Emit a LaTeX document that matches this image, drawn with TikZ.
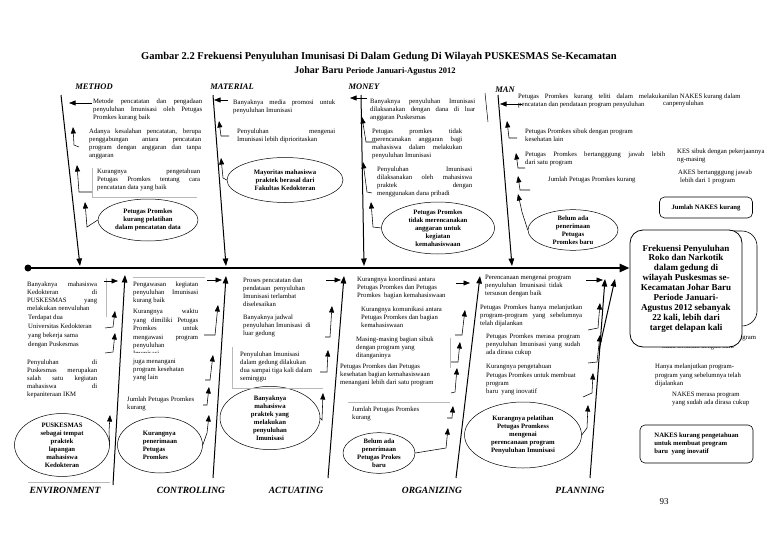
\documentclass[tikz,border=0pt]{standalone}
\usepackage{fontspec}
\setmainfont{Liberation Serif}
\usetikzlibrary{arrows.meta,shapes.geometric}
\tolerance=10000
\hyphenpenalty=10000

\tikzset{
	note/.style={anchor=north west, inner sep=0pt, align=left, font=\fontsize{6.7}{8}\selectfont},
	jnote/.style={note, align=justify, text width=#1},
	cause/.style={draw, ellipse, line width=0.5pt, inner sep=0pt, align=center, font=\bfseries\fontsize{6.7}{8}\selectfont},
	cat/.style={font=\bfseries\itshape\fontsize{8.5}{10}\selectfont},
	bone/.style={line width=1pt, -{Triangle[length=7.5pt,width=5.5pt]}},
	tip/.style={line width=0.55pt, -{Triangle[length=6.5pt,width=5pt]}},
	faint/.style={gray!55, line width=0.4pt},
	nbox/.style={draw, rounded corners=5pt, line width=0.6pt, inner sep=0pt, font=\bfseries\fontsize{6.7}{8.3}\selectfont}
}

\begin{document}
\begin{tikzpicture}[x=1pt,y=-1pt]
	\useasboundingbox (0,0) rectangle (768,543);
	%title----------------------------------------
	\node[font=\bfseries\fontsize{10.5}{12}\selectfont] (title) at (379,57) {Gambar 2.2 Frekuensi Penyuluhan Imunisasi Di Dalam Gedung Di Wilayah PUSKESMAS Se-Kecamatan};
	\node[font=\bfseries] (subtitle) at (375,71) {\fontsize{10}{12}\selectfont Johar Baru \fontsize{8.5}{12}\selectfont Periode Januari-Agustus 2012};

	%spine and head-------------------------------
	\node[font=\fontsize{6.7}{8}\selectfont, anchor=north west, inner sep=0pt] (plbehind) at (670,335) {Perencanaan mengenai program}; %hidden behind head
	\node[font=\fontsize{6.7}{8}\selectfont, anchor=north west, inner sep=0pt] (plbehindb) at (662,344) {tidak tersusun dengan baik}; %hidden behind head
	\draw[line width=0.6pt] (660,231) [rounded corners=15pt] -- (757,231) -- (757,326) -- (660,326); %shape behind head
	\node[draw, fill=white, rounded corners=13pt, line width=0.8pt, minimum width=112pt, minimum height=117pt, align=center, font=\bfseries\fontsize{9}{9.9}\selectfont] (head) at (686,288.5)
		{Frekuensi Penyuluhan\\Roko dan Narkotik\\dalam gedung di\\wilayah Puskesmas se-\\Kecamatan Johar Baru\\Periode Januari-\\Agustus 2012 sebanyak\\22 kali, lebih dari\\target delapan kali};
	\coordinate (spine) at (28,268);
	\fill (spine) circle (3.5pt);
	\draw[line width=2.5pt, -{Triangle[length=10pt,width=8pt]}] (spine) -- (spine -| head.west);

	%category labels------------------------------
	\node[cat] (lmethod) at (94,87) {METHOD};
	\node[cat] (lmaterial) at (232,87) {MATERIAL};
	\node[cat] (lmoney) at (364,87) {MONEY};
	\node[cat] (lman) at (505,90) {MAN};
	\node[cat, font=\bfseries\itshape\fontsize{9.5}{10}\selectfont] (lenv) at (65,490) {ENVIRONMENT};
	\node[cat, font=\bfseries\itshape\fontsize{9.5}{10}\selectfont] (lcontrol) at (191,490) {CONTROLLING};
	\node[cat, font=\bfseries\itshape\fontsize{9.5}{10}\selectfont] (lactuate) at (296,490) {ACTUATING};
	\node[cat, font=\bfseries\itshape\fontsize{9.5}{10}\selectfont] (lorganize) at (432,490) {ORGANIZING};
	\node[cat, font=\bfseries\itshape\fontsize{9.5}{10}\selectfont] (lplan) at (580,490) {PLANNING};

	%bones----------------------------------------
	\draw[bone] (61,95) -- (80,266); %method
	\draw[bone] (213,95) -- (226,266); %material
	\draw[bone] (361,95) -- (364,266); %money
	\draw[bone] (498,95) -- (512,266); %man
	\draw[line width=0.5pt] (485,93) -- (488,122); %stray line
	\draw[bone] (113,485) -- (125,275); %environment
	\draw[bone] (213,478) -- (226,276); %controlling
	\draw[bone] (328,478) -- (344,276); %actuating
	\draw[bone] (456,478) -- (480,276); %organizing
	\draw[bone] (590,478) -- (605,279); %planning
	\draw[bone] (599,350) -- (615,279); %planning 2

	%Method---------------------------------------
	\node[jnote=109pt] (mt1) at (93,99) {Metode pencatatan dan pengadaan\linebreak penyuluhan Imunisasi oleh Petugas\linebreak Promkes kurang baik};
	\node[jnote=112pt] (mt2) at (89,129) {Adanya kesalahan pencatatan, berupa\linebreak penggabungan antara pencatatan\linebreak program dengan anggaran dan tanpa\linebreak anggaran};
	\node[jnote=103pt] (mt3) at (97,169) {Kurangnya pengetahuan\linebreak Petugas Promkes tentang cara\linebreak pencatatan data yang baik};
	\node[cause, minimum width=100pt, minimum height=42pt] (mt4) at (148,220) {Petugas Promkes\\kurang pelatihan\\dalam pencatatan data};
	\draw[faint] (92,168) -- (92,197) -- (197,197); %box edge
	\draw[tip] (92,103) -- (69,103);
	\draw[tip] (79,147) -- (74,145) -- (73,127);
	\draw[tip] (92,192) -- (79,192) -- (77,165);
	\draw[tip] (mt4.west) -- (87,227) -- (85,202);

	%Material-------------------------------------
	\node[jnote=102pt] (ma1) at (233,100) {Banyaknya media promosi untuk\linebreak penyuluhan Imunisasi};
	\node[jnote=98pt] (ma2) at (237,129) {Penyuluhan mengenai\linebreak Imunisasi lebih diprioritaskan};
	\node[cause, minimum width=116pt, minimum height=45pt] (ma3) at (285,180) {Mayoritas mahasiswa\\praktek berasal dari\\Fakultas Kedokteran};
	\draw[tip] (228,100) -- (214,100);
	\draw[tip] (229,136) -- (221,136) -- (219,121);
	\draw[tip] (ma3.west) -- (223,178) -- (221,158);

	%Money----------------------------------------
	\node[jnote=105pt] (mo1) at (370,99) {Banyaknya penyuluhan Imunisasi\linebreak dilaksanakan dengan dana di luar\linebreak anggaran Puskesmas};
	\node[jnote=90pt] (mo2) at (372,129) {Petugas promkes tidak\linebreak merencanakan anggaran bagi\linebreak mahasiswa dalam melakukan\linebreak penyuluhan Imunisasi};
	\node[jnote=95pt] (mo3) at (377,167) {Penyuluhan Imunisasi\linebreak dilaksanakan oleh mahasiswa\linebreak praktek dengan\linebreak menggunakan dana pribadi};
	\node[cause, minimum width=113pt, minimum height=52pt] (mo4) at (438,228) {Petugas Promkes\\tidak merencanakan\\anggaran untuk\\kegiatan\\kemahasiswaan};
	\draw[tip] (367,98) -- (350,98);
	\draw[tip] (376,142) -- (366,142) -- (362,117);
	\draw[tip] (372,193) -- (367,192) -- (363,162);
	\draw[tip] (mo4.west) -- (373,227) -- (371,202);

	%Man------------------------------------------
	\node[jnote=150pt] (mn1) at (518,94) {Petugas Promkes kurang teliti dalam melakukan\linebreak pencatatan dan pendataan program penyuluhan};
	\node[note] (mn1b) at (668,94) {ilan NAKES kurang dalam};
	\node[note] (mn1c) at (663,101) {canpenyuluhan};
	\node[note] (mn2) at (525,129) {Petugas Promkes sibuk dengan program\\kesehatan lain};
	\node[jnote=140pt] (mn3) at (525,152) {Petugas Promkes bertangggung jawab lebih\linebreak dari satu program};
	\node[note] (mn4) at (548,177) {Jumlah Petugas Promkes kurang};
	\node[cause, minimum width=90pt, minimum height=40pt] (mn5) at (573,230) {Belum ada\\penerimaan\\Petugas\\Promkes baru};
	\draw[tip] (522,104) -- (500,104);
	\draw[tip] (517,138) -- (509,138) -- (507,121);
	\draw[tip] (525,168) -- (518,168) -- (516,153);
	\draw[tip] (530,190) -- (520,190) -- (518,176);
	\draw[tip] (mn5.west) -- (522,212) -- (518,194);

	%Nakes (right)--------------------------------
	\node[note] (nk1) at (677,149) {KES sibuk dengan pekerjaannya\\ng-masing};
	\node[note] (nk2) at (678,170) {AKES bertangggung jawab\\\hspace*{2pt}lebih dari 1 program};
	\node[nbox, minimum width=93pt, minimum height=21pt] (nk3) at (706,207.5) {Jumlah NAKES kurang};
	\node[note, font=\fontsize{6.7}{8.2}\selectfont] (nk4) at (655,364) {Hanya melanjutkan program-\\program yang sebelumnya telah\\dijalankan};
	\node[note] (nk5) at (672,392) {NAKES merasa program\\yang sudah ada dirasa cukup};
	\node[nbox, align=left, minimum width=113pt, minimum height=38pt] (nk6) at (696.5,444) {NAKES kurang pengetahuan\\untuk membuat program\\baru\ \ yang inovatif};

	%Environment----------------------------------
	\begin{scope}
		\clip (20,275) rectangle (105,309);
		\node[jnote=70pt] (en1) at (27,282) {Banyaknya mahasiswa\linebreak Kedokteran di\linebreak PUSKESMAS yang\linebreak melakukan penyuluhan};
	\end{scope}
	\node[note, font=\fontsize{6.7}{9}\selectfont] (en2) at (28,315) {Terdapat dua\\Universitas Kedokteran\\yang bekerja sama\\dengan Puskesmas};
	\node[jnote=70pt] (en3) at (27,360) {Penyuluhan di\linebreak Puskesmas merupakan\linebreak salah satu kegiatan\linebreak mahasiswa di\linebreak kepaniteraan IKM};
	\node[cause, minimum width=95pt, minimum height=60pt] (en4) at (62,445) {PUSKESMAS\\sebagai tempat\\praktek\\lapangan\\mahasiswa\\Kedokteran};
	\draw[faint] (106,278) -- (106,317); %box edge
	\draw[faint] (28,482) -- (110,482); %box edge
	\draw[tip] (104,281) -- (118,281);
	\draw[tip] (105,328) -- (113,327) -- (115,311);
	\draw[tip] (105,353) -- (113,352) -- (115,333);
	\draw[tip] (en4.east) -- (109,432) -- (110,415);

	%Controlling----------------------------------
	\node[jnote=65pt] (co1) at (133,282) {Pengawasan kegiatan\linebreak penyuluhan Imunisasi\linebreak kurang baik};
	\begin{scope}
		\clip (125,300) rectangle (205,352);
		\node[jnote=65pt, font=\fontsize{6.7}{8.4}\selectfont] (co2) at (133,309) {Kurangnya waktu\linebreak yang dimiliki Petugas\linebreak Promkes untuk\linebreak mengawasi program\linebreak penyuluhan\linebreak Imunisasi};
	\end{scope}
	\node[note] (co3) at (133,359) {juga menangani\\program kesehatan\\yang lain};
	\node[note] (co4) at (127,397) {Jumlah Petugas Promkes\\kurang};
	\node[cause, align=left, minimum width=85pt, minimum height=56pt] (co5) at (160,445) {Kurangnya\\penerimaan\\Petugas\\Promkes};
	\draw[faint] (133,277) -- (205,277); %box edge
	\draw[tip] (207,280) -- (222,280);
	\draw[tip] (204,335) -- (215,335) -- (218,305);
	\draw[tip] (205,380) -- (210,380) -- (213,355);
	\draw[tip] (203,405) -- (207,405) -- (209,387);
	\draw[tip] (co5.east) -- (207,433) -- (209,415);

	%Actuating------------------------------------
	\node[note] (ac1) at (243,278) {Proses pencatatan dan\\pendataan\ \ penyuluhan\\Imunisasi terlambat\\diselesaikan};
	\node[note] (ac2) at (243,315) {Banyaknya jadwal\\penyuluhan Imunisasi\ \ di\\luar gedung};
	\node[note] (ac3) at (240,352) {Penyuluhan Imunisasi\\dalam gedung dilakukan\\dua sampai tiga kali dalam\\seminggu};
	\node[cause, minimum width=100pt, minimum height=57pt] (ac4) at (270,418) {Banyaknya\\mahasiswa\\praktek yang\\melakukan\\penyuluhan\\Imunisasi};
	\draw[faint] (232,347) -- (232,388) -- (323,388); %box edge
	\draw[tip] (326,280) -- (341,280);
	\draw[tip] (325,337) -- (330,337) -- (332,306);
	\draw[tip] (320,372) -- (327,372) -- (328,350);
	\draw[tip] (ac4.east) -- (322,420) -- (323,393);

	%Organizing-----------------------------------
	\node[note] (or1) at (357,277) {Kurangnya koordinasi antara\\Petugas Promkes dan Petugas\\Promkes\ \ bagian kemahasiswaan};
	\node[note] (or2) at (361,307) {Kurangnya komunikasi antara\\Petugas Promkes dan bagian\\kemahasiswaan};
	\node[note] (or3) at (356,337) {Masing-masing bagian sibuk\\dengan program yang\\ditanganinya};
	\node[note] (or4) at (340,364) {Petugas Promkes dan Petugas\\kesehatan bagian kemahasiswaan\\menangani lebih dari satu program};
	\node[note] (or5) at (352,407) {Jumlah Petugas Promkes\\kurang};
	\node[cause, minimum width=72pt, minimum height=38pt] (or6) at (379,453) {Belum ada\\penerimaan\\Petugas Prokes\\baru};
	\draw[faint] (450,338) -- (450,368); %box edge
	\draw[faint] (348,402) -- (450,402); %box edge
	\draw[tip] (456,283) -- (470,283);
	\draw[tip] (455,335) -- (462,335) -- (465,310);
	\draw[tip] (451,362) -- (458,362) -- (460,342);
	\draw[tip] (451,393) -- (455,392) -- (457,368);
	\draw[tip] (447,418) -- (452,418) -- (453,406);
	\draw[tip] (or6.east) -- (446,448) -- (448,428);

	%Planning-------------------------------------
	\node[note] (pl1) at (485,275) {Perencanaan mengenai program\\penyuluhan\ \ Imunisasi\ \ tidak\\tersusun dengan baik};
	\node[jnote=102pt] (pl2) at (480,305) {Petugas Promkes hanya melanjutkan\linebreak program-program yang sebelumnya\linebreak telah dijalankan};
	\node[jnote=94pt] (pl3) at (486,334) {Petugas Promkes merasa program\linebreak penyuluhan Imunisasi yang sudah\linebreak ada dirasa cukup};
	\node[note, font=\fontsize{6.7}{8.3}\selectfont] (pl4) at (486,364) {Kurangnya pengetahuan\\Petugas Promkes untuk membuat\\program\\baru\ \ yang inovatif};
	\node[cause, minimum width=117pt, minimum height=66pt] (pl5) at (523,435) {Kurangnya pelatihan\\Petugas Promkess\\mengenai\\perencanaan program\\Penyuluhan Imunisasi};
	\draw[tip] (586,280) -- (603,280);
	\draw[tip] (588,330) -- (598,328) -- (600,303);
	\draw[tip] (588,363) -- (597,362) -- (600,335);
	\draw[tip] (583,397) -- (592,393) -- (593,373);
	\draw[tip] (pl5.east) -- (587,428) -- (588,405);

	%page number
	\node[font=\fontsize{9}{10}\selectfont] (page) at (664,502) {93};
\end{tikzpicture}
\end{document}
